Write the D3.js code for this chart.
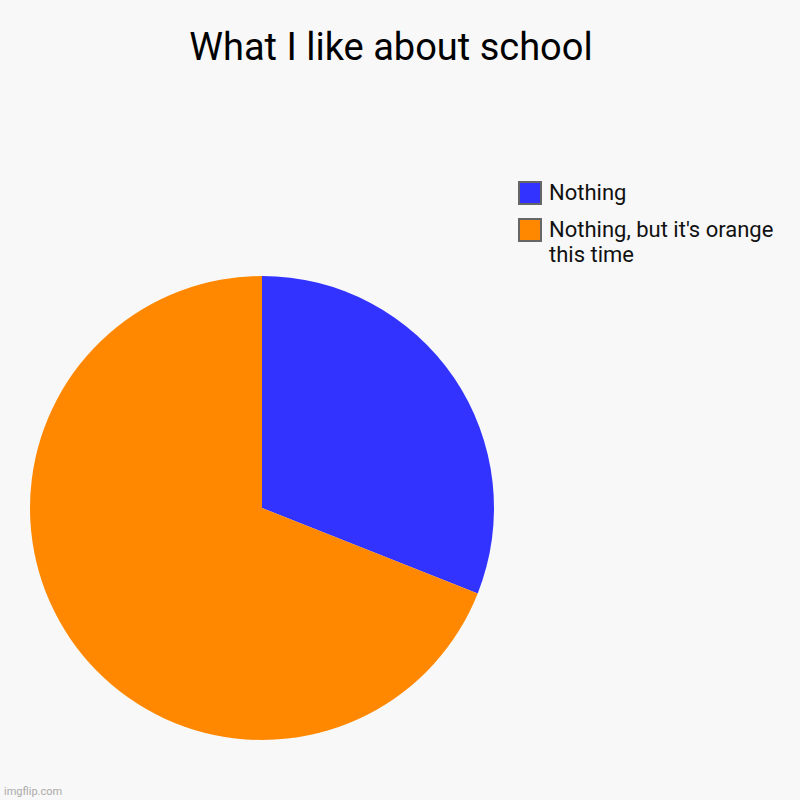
<!DOCTYPE html>
<html>
<head>
<meta charset="utf-8">
<script src="https://cdn.jsdelivr.net/npm/d3@7"></script>
<style>
  html, body { margin: 0; padding: 0; background: #f8f8f8; }
  svg { display: block; font-family: Roboto, "Noto Sans", sans-serif; }
</style>
</head>
<body>
<div id="chart"></div>
<script>
const title = "What I like about school";
const labels = ["Nothing", "Nothing, but it's orange this time"];
const legendLines = [["Nothing"], ["Nothing, but it's orange", "this time"]];
const values = [31, 69];
const colors = ["#3333ff", "#ff8800"];

const width = 800;
const height = 800;
const radius = 232;
const cx = 262;
const cy = 508;

const svg = d3
  .select("#chart")
  .append("svg")
  .attr("width", width)
  .attr("height", height);

svg.append("rect")
  .attr("width", width)
  .attr("height", height)
  .attr("fill", "#f8f8f8");

svg.append("text")
  .attr("x", 391)
  .attr("y", 60)
  .attr("text-anchor", "middle")
  .style("font-size", "38px")
  .style("fill", "#000")
  .text(title);

const data = labels.map((label, i) => ({ label, value: values[i], color: colors[i] }));

const pieGenerator = d3.pie().sort(null).value((d) => d.value);
const arcGenerator = d3.arc().innerRadius(0).outerRadius(radius);

const g = svg.append("g").attr("transform", `translate(${cx}, ${cy})`);
g.selectAll("path")
  .data(pieGenerator(data))
  .enter()
  .append("path")
  .attr("d", arcGenerator)
  .style("fill", (d) => d.data.color);

// legend
const legend = svg.append("g").attr("transform", "translate(519, 182)");
const rowY = [0, 37];
const item = legend.selectAll("g")
  .data(data)
  .enter()
  .append("g")
  .attr("transform", (_, i) => `translate(0, ${rowY[i]})`);

item.append("rect")
  .attr("width", 22)
  .attr("height", 22)
  .attr("fill", (d) => d.color)
  .attr("stroke", "#666")
  .attr("stroke-width", 2);

item.append("text")
  .attr("x", 30)
  .attr("y", 18)
  .style("font-size", "22px")
  .style("fill", "#111")
  .selectAll("tspan")
  .data((_, i) => legendLines[i])
  .enter()
  .append("tspan")
  .attr("x", 30)
  .attr("dy", (_, j) => (j === 0 ? 0 : 25))
  .text((t) => t);

svg.append("text")
  .attr("x", 4)
  .attr("y", 795)
  .style("font-size", "11px")
  .style("fill", "#aaa")
  .text("imgflip.com");
</script>
</body>
</html>
